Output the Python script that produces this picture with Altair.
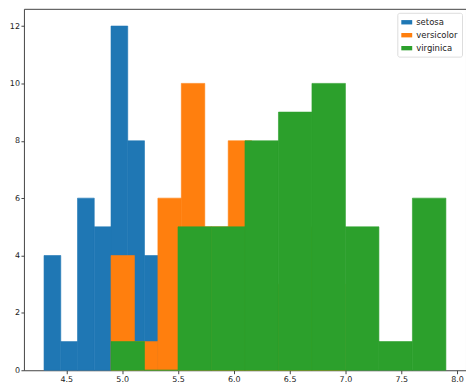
import altair as alt
import pandas as pd

species = ["setosa", "versicolor", "virginica"]
colors = ["#1f77b4", "#ff7f0e", "#2ca02c"]

setosa_edges = [4.3, 4.45, 4.6, 4.75, 4.9, 5.05, 5.2, 5.35, 5.5, 5.65, 5.8]
setosa_counts = [4, 1, 6, 5, 12, 8, 4, 5, 2, 3]

versicolor_edges = [4.9, 5.11, 5.32, 5.53, 5.74, 5.95, 6.16, 6.37, 6.58, 6.79, 7.0]
versicolor_counts = [4, 1, 6, 10, 5, 8, 5, 3, 5, 3]

virginica_edges = [4.9, 5.2, 5.5, 5.8, 6.1, 6.4, 6.7, 7.0, 7.3, 7.6, 7.9]
virginica_counts = [1, 0, 5, 5, 8, 9, 10, 5, 1, 6]

x_ticks = [4.5, 5.0, 5.5, 6.0, 6.5, 7.0, 7.5, 8.0]
y_ticks = [0, 2, 4, 6, 8, 10, 12]

rows = []
for name, edges, counts in [
    ("setosa", setosa_edges, setosa_counts),
    ("versicolor", versicolor_edges, versicolor_counts),
    ("virginica", virginica_edges, virginica_counts),
]:
    for i, c in enumerate(counts):
        rows.append({"species": name, "x0": edges[i], "x1": edges[i + 1], "count": c, "zero": 0})
df = pd.DataFrame(rows)

font = "DejaVu Sans"

chart = alt.Chart(df).mark_rect(strokeWidth=0.6).encode(
    x=alt.X("x0:Q", scale=alt.Scale(domain=[4.12, 8.08], nice=False, zero=False),
            axis=alt.Axis(values=x_ticks, format=".1f", title=None, grid=False,
                          tickSize=3.5, labelPadding=2, labelFontSize=8,
                          labelFont=font, labelColor="#222", tickColor="#444",
                          domain=False)),
    x2="x1:Q",
    y=alt.Y("zero:Q", scale=alt.Scale(domain=[0, 12.6], nice=False),
            axis=alt.Axis(values=y_ticks, title=None, grid=False,
                          tickSize=3, labelPadding=1.5, labelFontSize=8,
                          labelFont=font, labelColor="#222", tickColor="#444",
                          domain=False)),
    y2="count:Q",
    color=alt.Color("species:N",
                    scale=alt.Scale(domain=species, range=colors),
                    legend=alt.Legend(title=None, orient="top-right",
                                      symbolType="M-1,-0.4H1V0.4H-1Z",
                                      symbolSize=120, symbolStrokeWidth=0,
                                      symbolOpacity=1,
                                      labelFont=font, labelFontSize=8.5,
                                      labelColor="#222",
                                      fillColor="white", strokeColor="#ddd",
                                      padding=4, rowPadding=3, offset=4,
                                      cornerRadius=2)),
    stroke=alt.Stroke("species:N", scale=alt.Scale(domain=species, range=colors),
                      legend=None),
).properties(
    width=444,
    height=363,
    autosize=alt.AutoSizeParams(type="none"),
    padding={"left": 16, "top": 0, "right": 0, "bottom": 16},
).configure_view(
    stroke="#444", strokeWidth=1
)

chart.save("out.html", embed_options={"renderer": "svg", "actions": False})
